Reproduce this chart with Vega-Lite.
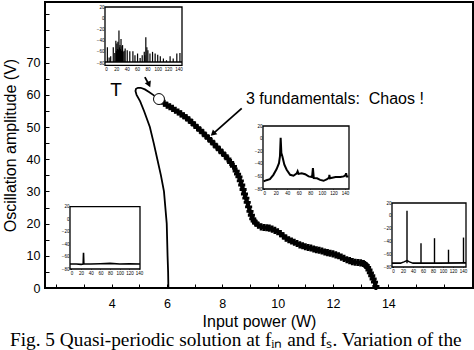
{
  "$schema": "https://vega.github.io/schema/vega-lite/v6.json",
  "width": 428,
  "height": 286,
  "autosize": "none",
  "padding": {"left": 45, "top": 2, "right": 1, "bottom": 62},
  "background": "white",
  "config": {
    "view": {"stroke": "black", "strokeWidth": 2},
    "axis": {"labelFont": "Liberation Sans", "titleFont": "Liberation Sans", "labelColor": "black", "titleColor": "black", "tickColor": "black", "domainColor": "black", "grid": false, "labelOverlap": false, "labelFlush": false, "titleFontWeight": "normal"}
  },
  "title": {"text": "Fig. 5 Quasi-periodic solution at fᵢₙ and fₛ. Variation of the", "orient": "bottom", "frame": "group", "anchor": "start", "dx": -35, "offset": 1, "font": "Liberation Serif", "fontSize": 19.3, "fontWeight": "normal", "color": "black"},
  "resolve": {"scale": {"x": "independent", "y": "independent"}, "axis": {"x": "independent", "y": "independent"}},
  "datasets": {
    "fold": [
      {"x": 6.05, "y": 0, "o": 1}, {"x": 6.04, "y": 5, "o": 2}, {"x": 6.02, "y": 10, "o": 3}, {"x": 5.99, "y": 20, "o": 4},
      {"x": 5.89, "y": 30, "o": 5}, {"x": 5.78, "y": 35, "o": 6}, {"x": 5.65, "y": 40, "o": 7}, {"x": 5.52, "y": 45, "o": 8},
      {"x": 5.38, "y": 50, "o": 9}, {"x": 5.17, "y": 55, "o": 10}, {"x": 5.03, "y": 58, "o": 11}, {"x": 4.9, "y": 60, "o": 12},
      {"x": 4.86, "y": 61.2, "o": 13}, {"x": 4.88, "y": 61.9, "o": 14}, {"x": 4.95, "y": 62.2, "o": 15}, {"x": 5.05, "y": 62.2, "o": 16},
      {"x": 5.2, "y": 61.7, "o": 17}, {"x": 5.35, "y": 60.9, "o": 18}, {"x": 5.5, "y": 60.0, "o": 19}, {"x": 5.71, "y": 58.7, "o": 20},
      {"x": 5.93, "y": 57.2, "o": 21}
    ],
    "chaos": [
      {"x": 5.9, "y": 57.4}, {"x": 6.0, "y": 56.8}, {"x": 6.1, "y": 56.3}, {"x": 6.2, "y": 55.8}, {"x": 6.3, "y": 55.2},
      {"x": 6.4, "y": 54.7}, {"x": 6.5, "y": 54.1}, {"x": 6.6, "y": 53.5}, {"x": 6.7, "y": 52.9}, {"x": 6.8, "y": 52.2},
      {"x": 6.9, "y": 51.4}, {"x": 7.0, "y": 50.6}, {"x": 7.1, "y": 49.8}, {"x": 7.2, "y": 49.0}, {"x": 7.3, "y": 48.2},
      {"x": 7.4, "y": 47.3}, {"x": 7.5, "y": 46.5}, {"x": 7.6, "y": 45.6}, {"x": 7.7, "y": 44.7}, {"x": 7.8, "y": 43.8},
      {"x": 7.9, "y": 42.9}, {"x": 8.0, "y": 42.0}, {"x": 8.1, "y": 41.1}, {"x": 8.2, "y": 40.1}, {"x": 8.3, "y": 39.0},
      {"x": 8.4, "y": 37.8}, {"x": 8.5, "y": 36.3}, {"x": 8.55, "y": 35.4}, {"x": 8.6, "y": 34.5}, {"x": 8.65, "y": 33.3},
      {"x": 8.7, "y": 32.0}, {"x": 8.75, "y": 30.6}, {"x": 8.8, "y": 29.2}, {"x": 8.85, "y": 27.9}, {"x": 8.9, "y": 26.6},
      {"x": 8.95, "y": 25.2}, {"x": 9.0, "y": 23.8}, {"x": 9.05, "y": 22.6}, {"x": 9.1, "y": 21.5}, {"x": 9.15, "y": 20.8},
      {"x": 9.2, "y": 20.2}, {"x": 9.3, "y": 19.5}, {"x": 9.4, "y": 19.0}, {"x": 9.5, "y": 18.8}, {"x": 9.6, "y": 18.7},
      {"x": 9.7, "y": 18.6}, {"x": 9.8, "y": 18.3}, {"x": 9.9, "y": 17.9}, {"x": 10.0, "y": 17.5}, {"x": 10.1, "y": 16.9},
      {"x": 10.2, "y": 16.2}, {"x": 10.3, "y": 15.5}, {"x": 10.4, "y": 15.0}, {"x": 10.5, "y": 14.6}, {"x": 10.6, "y": 14.2},
      {"x": 10.7, "y": 13.8}, {"x": 10.8, "y": 13.4}, {"x": 10.9, "y": 13.1}, {"x": 11.0, "y": 12.8}, {"x": 11.1, "y": 12.6},
      {"x": 11.2, "y": 12.4}, {"x": 11.3, "y": 12.1}, {"x": 11.4, "y": 11.9}, {"x": 11.5, "y": 11.7}, {"x": 11.6, "y": 11.5},
      {"x": 11.7, "y": 11.2}, {"x": 11.8, "y": 11.0}, {"x": 11.9, "y": 10.8}, {"x": 12.0, "y": 10.6}, {"x": 12.1, "y": 10.3},
      {"x": 12.2, "y": 10.0}, {"x": 12.3, "y": 9.6}, {"x": 12.4, "y": 9.2}, {"x": 12.5, "y": 8.8}, {"x": 12.6, "y": 8.5},
      {"x": 12.7, "y": 8.2}, {"x": 12.8, "y": 8.0}, {"x": 12.9, "y": 7.9}, {"x": 13.0, "y": 7.8}, {"x": 13.1, "y": 7.6},
      {"x": 13.15, "y": 7.3}, {"x": 13.2, "y": 7.0}, {"x": 13.25, "y": 6.4}, {"x": 13.3, "y": 5.6}, {"x": 13.35, "y": 4.7},
      {"x": 13.4, "y": 3.8}, {"x": 13.45, "y": 2.8}, {"x": 13.5, "y": 1.8}, {"x": 13.55, "y": 0.5}
    ],
    "arrows": [
      {"x": 8.7, "y": 55.8, "a": "big", "o": 1}, {"x": 7.69, "y": 48.1, "a": "big", "o": 2},
      {"x": 5.2, "y": 65.5, "a": "small", "o": 1}, {"x": 5.34, "y": 63.3, "a": "small", "o": 2}
    ],
    "heads": [
      {"x": 7.66, "y": 47.9, "ang": 228},
      {"x": 5.35, "y": 63.2, "ang": 155}
    ],
    "s1": [
      {"f": 2.6, "v": -52}, {"f": 6, "v": -70}, {"f": 9, "v": -68}, {"f": 14, "v": -52}, {"f": 17, "v": -62},
      {"f": 19, "v": -40}, {"f": 20, "v": -58}, {"f": 21, "v": -45}, {"f": 22, "v": -55}, {"f": 23, "v": -42},
      {"f": 24, "v": -56}, {"f": 25, "v": -22}, {"f": 26, "v": -52}, {"f": 27, "v": -48}, {"f": 28, "v": -55},
      {"f": 29, "v": -37}, {"f": 30, "v": -58}, {"f": 31, "v": -50}, {"f": 32, "v": -48}, {"f": 33, "v": -60},
      {"f": 35, "v": -58}, {"f": 37, "v": -54}, {"f": 41, "v": -57}, {"f": 46, "v": -59}, {"f": 52, "v": -59},
      {"f": 56, "v": -66}, {"f": 61, "v": -63}, {"f": 66, "v": -71}, {"f": 70, "v": -66}, {"f": 74, "v": -60},
      {"f": 75, "v": -66}, {"f": 77, "v": -34}, {"f": 79, "v": -52}, {"f": 81, "v": -57}, {"f": 85, "v": -63},
      {"f": 90, "v": -60}, {"f": 95, "v": -63}, {"f": 100, "v": -65}, {"f": 105, "v": -68}, {"f": 111, "v": -72},
      {"f": 117, "v": -75}, {"f": 124, "v": -68}, {"f": 130, "v": -72}, {"f": 137, "v": -63}, {"f": 143, "v": -62}
    ],
    "s2": [
      {"f": -1, "v": -68}, {"f": 4, "v": -66}, {"f": 10, "v": -64.5}, {"f": 16, "v": -57.5}, {"f": 21.6, "v": -48.4},
      {"f": 25.7, "v": -39}, {"f": 27.4, "v": -28}, {"f": 28.6, "v": 1.3}, {"f": 29.8, "v": -22.8}, {"f": 31.5, "v": -28},
      {"f": 35, "v": -41.5}, {"f": 39, "v": -49.5}, {"f": 45, "v": -57.5}, {"f": 50.8, "v": -59}, {"f": 56.6, "v": -55},
      {"f": 58, "v": -52}, {"f": 59.5, "v": -56}, {"f": 65, "v": -55}, {"f": 71, "v": -56.5}, {"f": 77, "v": -60},
      {"f": 83, "v": -61}, {"f": 84.5, "v": -47}, {"f": 86, "v": -62.5}, {"f": 91.6, "v": -63}, {"f": 97, "v": -65.5},
      {"f": 103, "v": -67}, {"f": 109, "v": -64.5}, {"f": 112.5, "v": -62}, {"f": 113, "v": -57.5}, {"f": 114, "v": -63},
      {"f": 123.7, "v": -61}, {"f": 132, "v": -61}, {"f": 138, "v": -60}, {"f": 141, "v": -58}, {"f": 142, "v": -55},
      {"f": 143, "v": -60}, {"f": 146, "v": -60}
    ],
    "s3": [
      {"f": -3, "v": -72}, {"f": 10, "v": -72}, {"f": 20, "v": -72.5}, {"f": 24.3, "v": -72}, {"f": 25, "v": -54},
      {"f": 25.7, "v": -72}, {"f": 40, "v": -72}, {"f": 60, "v": -71.5}, {"f": 80, "v": -71}, {"f": 100, "v": -72},
      {"f": 120, "v": -71.5}, {"f": 142, "v": -72}
    ],
    "s4base": [
      {"f": -2, "v": -74}, {"f": 15, "v": -74}, {"f": 22, "v": -72}, {"f": 28, "v": -70}, {"f": 33, "v": -72},
      {"f": 40, "v": -74}, {"f": 90, "v": -74}, {"f": 146, "v": -73.5}
    ],
    "s4": [
      {"f": 28, "v": 8}, {"f": 56, "v": -43}, {"f": 83, "v": -35}, {"f": 111, "v": -53}, {"f": 141, "v": -34}
    ]
  },
  "layer": [
    {
      "data": {"name": "fold"},
      "mark": {"type": "line", "color": "black", "strokeWidth": 1.8},
      "encoding": {
        "x": {"field": "x", "type": "quantitative", "scale": {"domain": [1.59, 17.06], "nice": false, "zero": false},
          "axis": {"orient": "bottom", "values": [2, 3, 4, 5, 6, 7, 8, 9, 10, 11, 12, 13, 14, 15, 16], "labelExpr": "(datum.value % 2 == 0 && datum.value >= 4 && datum.value <= 14) ? datum.label : ''", "tickSize": -4, "labelPadding": 13, "labelFontSize": 12.5, "title": "Input power (W)", "titleFontSize": 16, "titlePadding": 4}},
        "y": {"field": "y", "type": "quantitative", "scale": {"domain": [0, 88.85], "nice": false, "zero": false},
          "axis": {"orient": "left", "values": [0, 5, 10, 15, 20, 25, 30, 35, 40, 45, 50, 55, 60, 65, 70, 75, 80, 85], "labelExpr": "(datum.value % 10 == 0 && datum.value <= 70) ? datum.label : ''", "tickSize": -4, "labelPadding": 9, "labelFontSize": 12.5, "title": "Oscillation amplitude (V)", "titleFontSize": 16, "titlePadding": 8}},
        "order": {"field": "o", "type": "quantitative"}
      }
    },
    {
      "data": {"name": "chaos"},
      "mark": {"type": "line", "color": "black", "strokeWidth": 3.5},
      "encoding": {
        "x": {"field": "x", "type": "quantitative", "scale": {"domain": [1.59, 17.06], "nice": false, "zero": false}, "axis": null},
        "y": {"field": "y", "type": "quantitative", "scale": {"domain": [0, 88.85], "nice": false, "zero": false}, "axis": null}
      }
    },
    {
      "data": {"name": "chaos"},
      "mark": {"type": "point", "shape": "cross", "filled": true, "color": "black", "size": 50, "opacity": 1},
      "encoding": {
        "x": {"field": "x", "type": "quantitative", "scale": {"domain": [1.59, 17.06], "nice": false, "zero": false}, "axis": null},
        "y": {"field": "y", "type": "quantitative", "scale": {"domain": [0, 88.85], "nice": false, "zero": false}, "axis": null}
      }
    },
    {
      "data": {"values": [{"x": 5.71, "y": 58.7}]},
      "mark": {"type": "point", "shape": "circle", "filled": true, "fill": "white", "stroke": "black", "strokeWidth": 1, "size": 120, "opacity": 1},
      "encoding": {
        "x": {"field": "x", "type": "quantitative", "scale": {"domain": [1.59, 17.06], "nice": false, "zero": false}, "axis": null},
        "y": {"field": "y", "type": "quantitative", "scale": {"domain": [0, 88.85], "nice": false, "zero": false}, "axis": null}
      }
    },
    {
      "data": {"name": "arrows"},
      "mark": {"type": "line", "color": "black", "strokeWidth": 1.8},
      "encoding": {
        "x": {"field": "x", "type": "quantitative", "scale": {"domain": [1.59, 17.06], "nice": false, "zero": false}, "axis": null},
        "y": {"field": "y", "type": "quantitative", "scale": {"domain": [0, 88.85], "nice": false, "zero": false}, "axis": null},
        "detail": {"field": "a"},
        "order": {"field": "o", "type": "quantitative"}
      }
    },
    {
      "data": {"name": "heads"},
      "mark": {"type": "point", "shape": "triangle-up", "filled": true, "color": "black", "size": 45, "opacity": 1},
      "encoding": {
        "x": {"field": "x", "type": "quantitative", "scale": {"domain": [1.59, 17.06], "nice": false, "zero": false}, "axis": null},
        "y": {"field": "y", "type": "quantitative", "scale": {"domain": [0, 88.85], "nice": false, "zero": false}, "axis": null},
        "angle": {"field": "ang", "type": "quantitative", "scale": null}
      }
    },
    {
      "data": {"values": [{"x": 4.16, "y": 61.4, "t": "T"}]},
      "mark": {"type": "text", "font": "Liberation Sans", "fontSize": 19, "align": "center", "baseline": "middle", "color": "black"},
      "encoding": {
        "x": {"field": "x", "type": "quantitative", "scale": {"domain": [1.59, 17.06], "nice": false, "zero": false}, "axis": null},
        "y": {"field": "y", "type": "quantitative", "scale": {"domain": [0, 88.85], "nice": false, "zero": false}, "axis": null},
        "text": {"field": "t"}
      }
    },
    {
      "data": {"values": [{"x": 8.855, "y": 58.6, "t": "3 fundamentals:\u00a0 Chaos !"}]},
      "mark": {"type": "text", "font": "Liberation Sans", "fontSize": 16, "align": "left", "baseline": "middle", "color": "black"},
      "encoding": {
        "x": {"field": "x", "type": "quantitative", "scale": {"domain": [1.59, 17.06], "nice": false, "zero": false}, "axis": null},
        "y": {"field": "y", "type": "quantitative", "scale": {"domain": [0, 88.85], "nice": false, "zero": false}, "axis": null},
        "text": {"field": "t"}
      }
    },
    {
      "data": {"values": [{}]},
      "mark": {"type": "rect", "fill": "white", "stroke": "black", "strokeWidth": 1.3},
      "encoding": {
        "x": {"datum": -2, "type": "quantitative", "scale": {"domain": [-2, 147], "range": [60, 137], "nice": false, "zero": false},
          "axis": {"orient": "bottom", "offset": -222.7, "values": [0, 20, 40, 60, 80, 100, 120, 140], "labelFontSize": 4.5, "tickSize": -1.5, "labelPadding": 2.5, "domain": false, "title": null}},
        "x2": {"datum": 147},
        "y": {"datum": -84, "type": "quantitative", "scale": {"domain": [-84, 20], "range": [63.3, 5], "nice": false, "zero": false},
          "axis": {"orient": "left", "offset": -60, "values": [-80, -60, -40, -20, 0, 20], "labelFontSize": 4.5, "tickSize": -1.5, "labelPadding": 2.5, "domain": false, "title": null}},
        "y2": {"datum": 20}
      }
    },
    {
      "data": {"name": "s1"},
      "mark": {"type": "rule", "color": "black", "strokeWidth": 1.2},
      "encoding": {
        "x": {"field": "f", "type": "quantitative", "scale": {"domain": [-2, 147], "range": [60, 137], "nice": false, "zero": false}, "axis": null},
        "y": {"field": "v", "type": "quantitative", "scale": {"domain": [-84, 20], "range": [63.3, 5], "nice": false, "zero": false}, "axis": null},
        "y2": {"datum": -78}
      }
    },
    {
      "data": {"values": [{}]},
      "mark": {"type": "rule", "color": "black", "strokeWidth": 1.6},
      "encoding": {
        "x": {"datum": -2, "type": "quantitative", "scale": {"domain": [-2, 147], "range": [60, 137], "nice": false, "zero": false}, "axis": null},
        "x2": {"datum": 147},
        "y": {"datum": -78, "type": "quantitative", "scale": {"domain": [-84, 20], "range": [63.3, 5], "nice": false, "zero": false}, "axis": null}
      }
    },
    {
      "data": {"values": [{}]},
      "mark": {"type": "rect", "fill": "white", "stroke": "black", "strokeWidth": 1.3},
      "encoding": {
        "x": {"datum": -2, "type": "quantitative", "scale": {"domain": [-2, 147], "range": [218, 304], "nice": false, "zero": false},
          "axis": {"orient": "bottom", "offset": -99, "values": [0, 20, 40, 60, 80, 100, 120, 140], "labelFontSize": 4.5, "tickSize": -1.5, "labelPadding": 2.5, "domain": false, "title": null}},
        "x2": {"datum": 147},
        "y": {"datum": -80, "type": "quantitative", "scale": {"domain": [-80, 20], "range": [187, 124], "nice": false, "zero": false},
          "axis": {"orient": "left", "offset": -218, "values": [-80, -60, -40, -20, 0, 20], "labelFontSize": 4.5, "tickSize": -1.5, "labelPadding": 2.5, "domain": false, "title": null}},
        "y2": {"datum": 20}
      }
    },
    {
      "data": {"name": "s2"},
      "mark": {"type": "line", "color": "black", "strokeWidth": 2},
      "encoding": {
        "x": {"field": "f", "type": "quantitative", "scale": {"domain": [-2, 147], "range": [218, 304], "nice": false, "zero": false}, "axis": null},
        "y": {"field": "v", "type": "quantitative", "scale": {"domain": [-80, 20], "range": [187, 124], "nice": false, "zero": false}, "axis": null}
      }
    },
    {
      "data": {"values": [{}]},
      "mark": {"type": "rect", "fill": "white", "stroke": "black", "strokeWidth": 1.3},
      "encoding": {
        "x": {"datum": -3, "type": "quantitative", "scale": {"domain": [-3, 142], "range": [25, 95], "nice": false, "zero": false},
          "axis": {"orient": "bottom", "offset": -19, "values": [0, 20, 40, 60, 80, 100, 120, 140], "labelFontSize": 4.5, "tickSize": -1.5, "labelPadding": 2.5, "domain": false, "title": null}},
        "x2": {"datum": 142},
        "y": {"datum": -80, "type": "quantitative", "scale": {"domain": [-80, 20], "range": [267, 204.7], "nice": false, "zero": false},
          "axis": {"orient": "left", "offset": -25, "values": [-80, -60, -40, -20, 0, 20], "labelFontSize": 4.5, "tickSize": -1.5, "labelPadding": 2.5, "domain": false, "title": null}},
        "y2": {"datum": 20}
      }
    },
    {
      "data": {"name": "s3"},
      "mark": {"type": "line", "color": "black", "strokeWidth": 1.6},
      "encoding": {
        "x": {"field": "f", "type": "quantitative", "scale": {"domain": [-3, 142], "range": [25, 95], "nice": false, "zero": false}, "axis": null},
        "y": {"field": "v", "type": "quantitative", "scale": {"domain": [-80, 20], "range": [267, 204.7], "nice": false, "zero": false}, "axis": null}
      }
    },
    {
      "data": {"values": [{}]},
      "mark": {"type": "rect", "fill": "white", "stroke": "black", "strokeWidth": 1.3},
      "encoding": {
        "x": {"datum": -2, "type": "quantitative", "scale": {"domain": [-2, 146], "range": [347, 421], "nice": false, "zero": false},
          "axis": {"orient": "bottom", "offset": -21, "values": [0, 20, 40, 60, 80, 100, 120, 140], "labelFontSize": 4.5, "tickSize": -1.5, "labelPadding": 2.5, "domain": false, "title": null}},
        "x2": {"datum": 146},
        "y": {"datum": -80, "type": "quantitative", "scale": {"domain": [-80, 20], "range": [265, 201], "nice": false, "zero": false},
          "axis": {"orient": "left", "offset": -347, "values": [-80, -60, -40, -20, 0, 20], "labelFontSize": 4.5, "tickSize": -1.5, "labelPadding": 2.5, "domain": false, "title": null}},
        "y2": {"datum": 20}
      }
    },
    {
      "data": {"name": "s4base"},
      "mark": {"type": "line", "color": "black", "strokeWidth": 1.6},
      "encoding": {
        "x": {"field": "f", "type": "quantitative", "scale": {"domain": [-2, 146], "range": [347, 421], "nice": false, "zero": false}, "axis": null},
        "y": {"field": "v", "type": "quantitative", "scale": {"domain": [-80, 20], "range": [265, 201], "nice": false, "zero": false}, "axis": null}
      }
    },
    {
      "data": {"name": "s4"},
      "mark": {"type": "rule", "color": "black", "strokeWidth": 1.4},
      "encoding": {
        "x": {"field": "f", "type": "quantitative", "scale": {"domain": [-2, 146], "range": [347, 421], "nice": false, "zero": false}, "axis": null},
        "y": {"field": "v", "type": "quantitative", "scale": {"domain": [-80, 20], "range": [265, 201], "nice": false, "zero": false}, "axis": null},
        "y2": {"datum": -74}
      }
    }
  ]
}
